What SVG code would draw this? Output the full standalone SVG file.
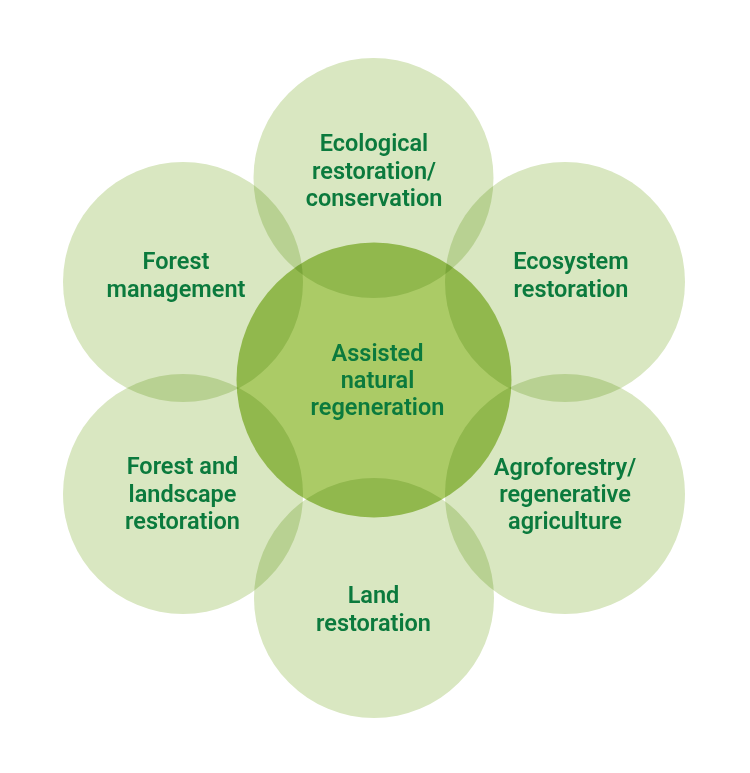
<svg xmlns="http://www.w3.org/2000/svg" width="750" height="773" viewBox="0 0 750 773">
<style>
.outer{fill:#d9e7c1;mix-blend-mode:multiply}
.center{fill:#abcb66;mix-blend-mode:multiply}
text{font-family:Roboto,"Liberation Sans",sans-serif;font-weight:600;font-size:23.5px;fill:#0b7a3d;text-anchor:middle}
</style>
<rect width="750" height="773" fill="#ffffff"/>
<g id="connectors"></g>
<g id="node-ecological">
<circle class="outer" cx="373.5" cy="178" r="120"/>
</g>
<g id="node-forest-management">
<circle class="outer" cx="183" cy="282" r="120"/>
</g>
<g id="node-ecosystem">
<circle class="outer" cx="565" cy="282" r="120"/>
</g>
<g id="node-forest-landscape">
<circle class="outer" cx="183" cy="494" r="120"/>
</g>
<g id="node-agroforestry">
<circle class="outer" cx="565" cy="494" r="120"/>
</g>
<g id="node-land">
<circle class="outer" cx="374" cy="598" r="120"/>
</g>
<g id="node-center">
<circle class="center" cx="374" cy="380" r="137.5"/>
</g>
<g id="labels">
<text x="374" y="151">Ecological</text>
<text x="374" y="179">restoration/</text>
<text x="374" y="206">conservation</text>
<text x="176" y="269">Forest</text>
<text x="176" y="297">management</text>
<text x="571" y="269">Ecosystem</text>
<text x="571" y="297">restoration</text>
<text x="377.5" y="361">Assisted</text>
<text x="377.5" y="388">natural</text>
<text x="377.5" y="415">regeneration</text>
<text x="182.5" y="474">Forest and</text>
<text x="182.5" y="502">landscape</text>
<text x="182.5" y="529">restoration</text>
<text x="565" y="475">Agroforestry/</text>
<text x="565" y="502">regenerative</text>
<text x="565" y="529">agriculture</text>
<text x="373.5" y="603">Land</text>
<text x="373.5" y="631">restoration</text>
</g>
</svg>
